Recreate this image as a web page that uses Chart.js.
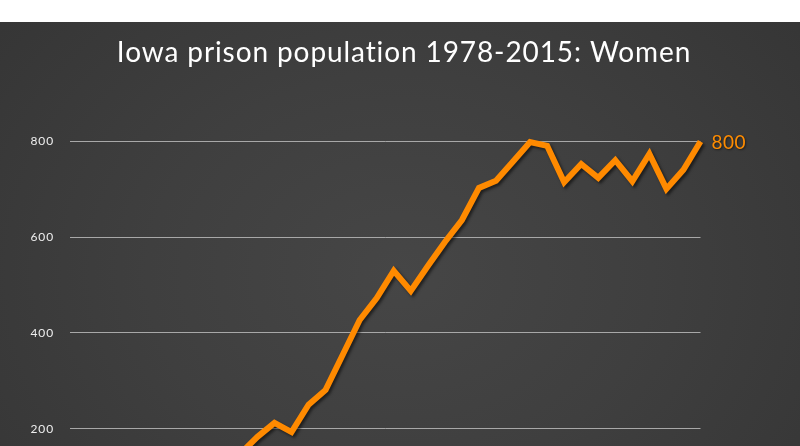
<!DOCTYPE html>
<html>
<head>
<meta charset="utf-8">
<script src="https://cdn.jsdelivr.net/npm/chart.js@4"></script>
<style>
html,body{margin:0;padding:0;background:#fff;overflow:hidden;width:800px;height:446px;}
#panel{position:absolute;left:0;top:22px;width:800px;height:560px;
background:radial-gradient(ellipse 70% 80% at 50% 45%,#464646 0%,#3f3f3f 45%,#343434 100%);}
canvas{display:block;}
</style>
</head>
<body>
<div id="panel"><canvas id="womenChart" width="800" height="560"></canvas></div>
<script>
// Iowa women in prison, 1978-2015
let years = [];
for (let y = 1978; y <= 2015; y++) years.push(String(y));

let women = [60,65,72,80,88,95,100,110,122,135,148,183,212,193,250,281,354,427,473,530,
488,540,590,636,703,718,758,799,791,715,753,724,761,717,774,701,741,800];

let yTicks = [0,200,400,600,800];

// wider tracking for the title text (Futura look)
let spacing = {
id:"spacing",
beforeDraw(chart){ chart.ctx.letterSpacing = "0.9px"; },
beforeDatasetsDraw(chart){ chart.ctx.letterSpacing = "0px"; }
};

let lineShadow = {
id:"lineShadow",
beforeDatasetDraw(chart){
let ctx = chart.ctx;
ctx.save();
ctx.shadowColor = "rgba(0,0,0,0.55)";
ctx.shadowBlur = 3;
ctx.shadowOffsetX = 2;
ctx.shadowOffsetY = 2;
},
afterDatasetDraw(chart){
chart.ctx.restore();
}
};

let endLabel = {
id:"endLabel",
afterDatasetsDraw(chart){
let ctx = chart.ctx;
let meta = chart.getDatasetMeta(0);
let last = meta.data[meta.data.length-1];
let val = chart.data.datasets[0].data[meta.data.length-1];
ctx.save();
ctx.font = "19px Lato";
ctx.letterSpacing = "0.5px";
ctx.fillStyle = "#ff8c00";
ctx.textAlign = "left";
ctx.textBaseline = "middle";
ctx.shadowColor = "rgba(0,0,0,0.5)";
ctx.shadowBlur = 2;
ctx.shadowOffsetX = 1;
ctx.shadowOffsetY = 1;
ctx.fillText(String(val), last.x + 11, last.y + 1);
ctx.restore();
}
};

let womenChart = new Chart(document.getElementById("womenChart"),{

type:"line",

data:{
labels:years,
datasets:[{
label:"Women",
data:women,
borderColor:"#ff8a00",
borderWidth:6,
pointRadius:0,
tension:0,
clip:false,
fill:false
}]
},

options:{
responsive:false,
animation:false,
events:[],
layout:{padding:{left:8,right:0,top:0,bottom:57.6}},
plugins:{
legend:{display:false},
tooltip:{enabled:false},
title:{
display:true,
text:"Iowa prison population 1978-2015: Women",
color:"#ffffff",
font:{family:"Lato",size:28,weight:"normal",lineHeight:1.2},
padding:{top:14,bottom:71.9}
}
},
scales:{
x:{display:false},
y:{
min:0,
max:800,
afterFit(scale){ scale.width = 62; },
afterBuildTicks(scale){ scale.ticks = yTicks.map(v => ({value:v})); },
border:{display:false},
grid:{color:"#a8a8a8",lineWidth:1,drawTicks:false},
ticks:{color:"#eeeeee",padding:16,font:{family:"Lato",size:12}}
},
// empty right axis, only keeps room for the end label
yRight:{
position:"right",
min:0,
max:800,
afterFit(scale){ scale.width = 99.5; },
border:{display:false},
grid:{display:false},
ticks:{display:false}
}
}
},

plugins:[spacing,lineShadow,endLabel]

});
</script>
</body>
</html>
